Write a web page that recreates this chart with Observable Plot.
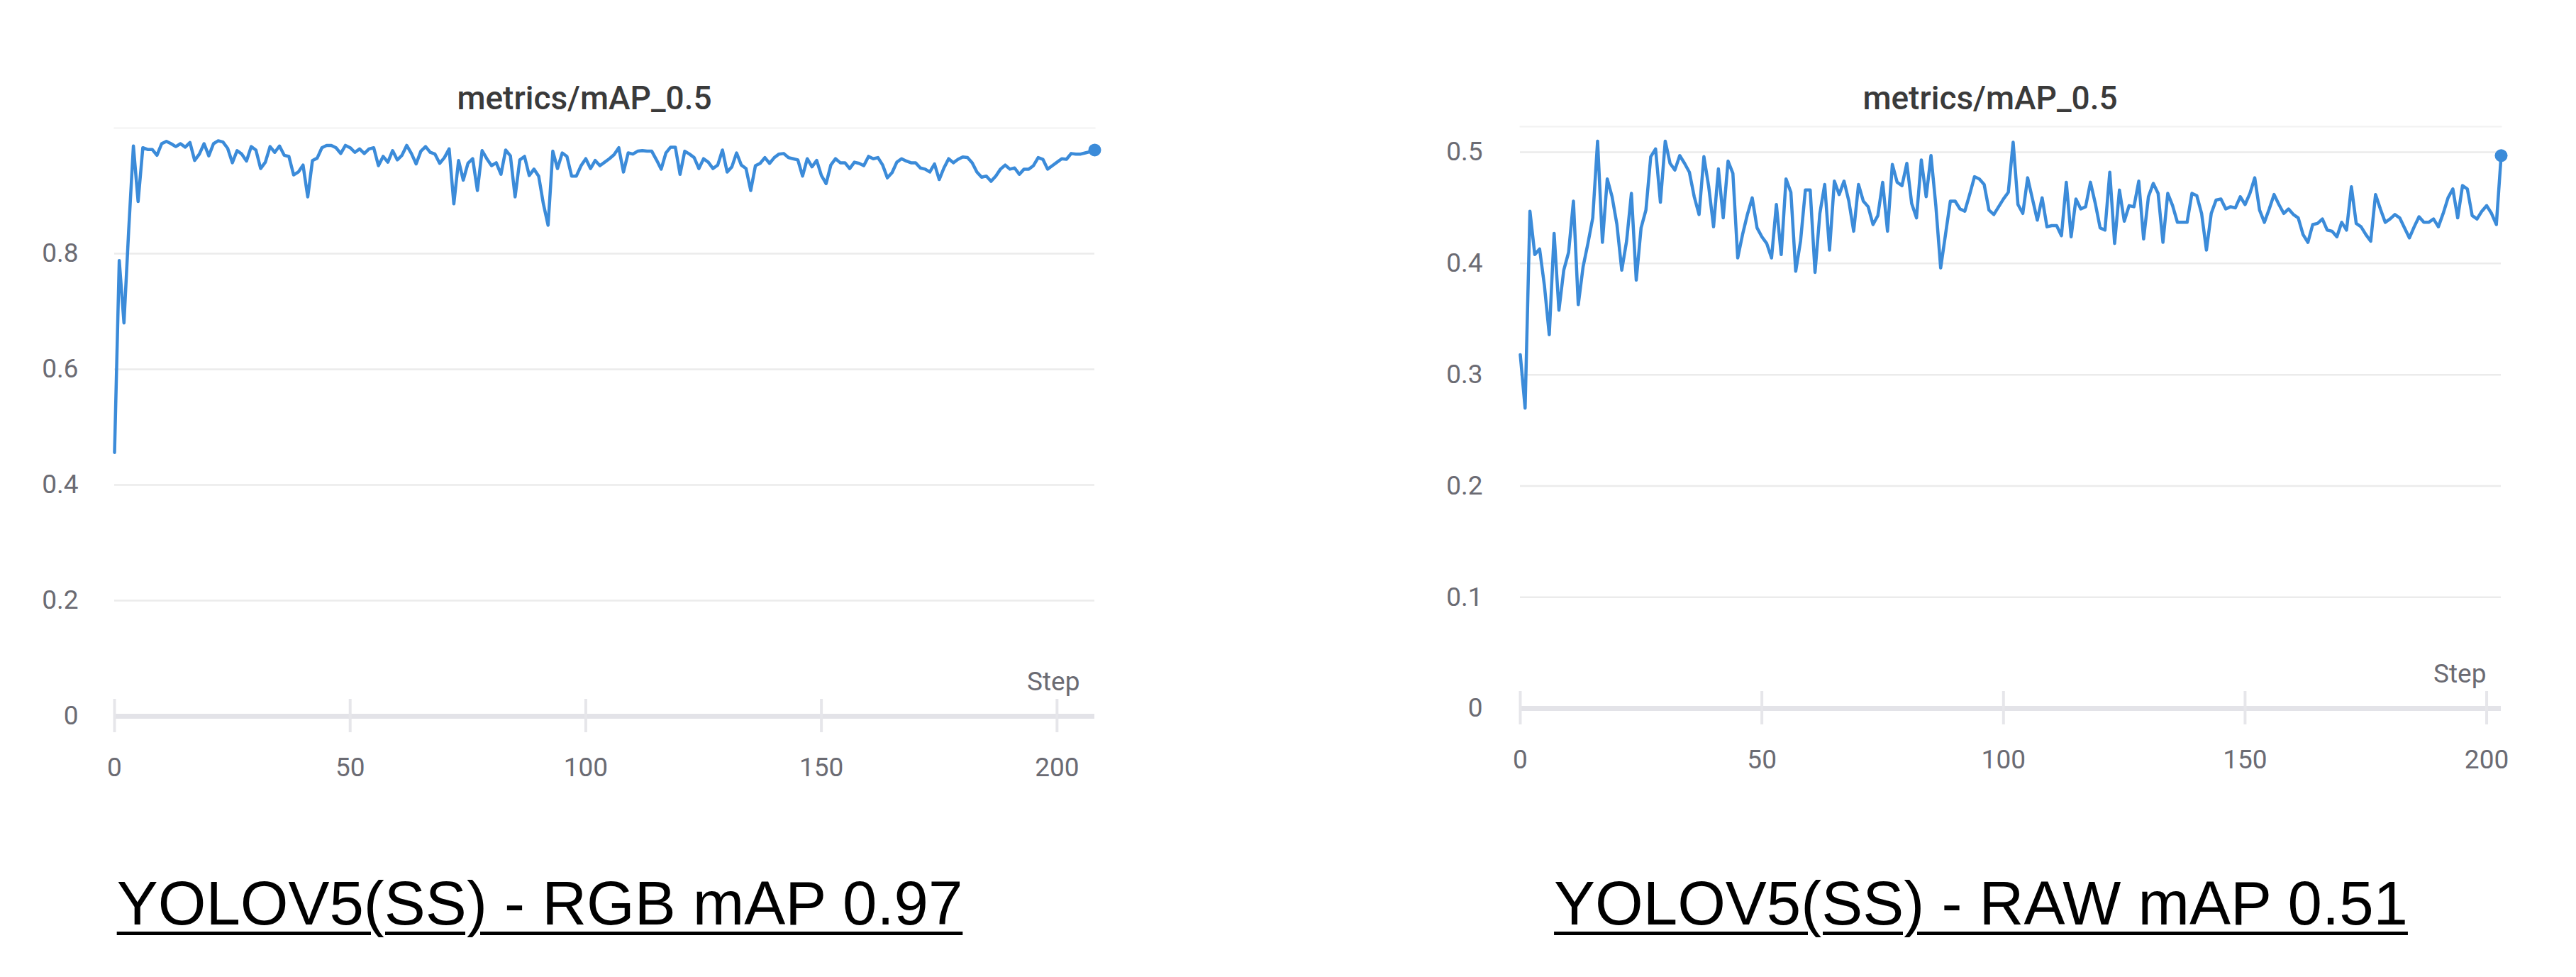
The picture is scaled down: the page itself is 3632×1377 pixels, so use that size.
<!DOCTYPE html>
<html><head><meta charset="utf-8">
<script src="https://cdn.jsdelivr.net/npm/d3@7"></script>
<script src="https://cdn.jsdelivr.net/npm/@observablehq/plot@0.6"></script>
<style>
html,body{margin:0;padding:0;background:#fff;}
#page{position:relative;width:3632px;height:1377px;overflow:hidden;background:#fff;}
.panel{position:absolute;top:0;}
.title{position:absolute;font-family:Roboto, sans-serif;font-weight:500;font-size:46px;color:#3a3a3a;transform:translate(-50%,-50%);white-space:nowrap;}
.caption{position:absolute;font-family:"Liberation Sans", Arial, sans-serif;font-size:87px;line-height:87px;color:#000;text-decoration:underline;text-decoration-thickness:5px;text-underline-offset:10px;white-space:nowrap;transform:translateX(-50%);}
</style></head>
<body><div id="page"></div>
<script>
const rgbMAP = [
0.456,0.788,0.68,0.84,0.986,0.89,0.983,0.98,0.98,0.97,
0.99,0.994,0.99,0.985,0.99,0.984,0.992,0.961,0.972,0.99,
0.969,0.99,0.995,0.993,0.982,0.957,0.978,0.972,0.96,0.985,
0.979,0.947,0.958,0.985,0.975,0.986,0.97,0.968,0.936,0.941,
0.953,0.898,0.961,0.965,0.983,0.987,0.987,0.983,0.973,0.987,
0.983,0.975,0.981,0.973,0.981,0.983,0.952,0.968,0.958,0.978,
0.962,0.97,0.987,0.973,0.955,0.977,0.985,0.975,0.972,0.956,
0.966,0.981,0.886,0.961,0.927,0.956,0.964,0.909,0.978,0.964,
0.952,0.957,0.937,0.979,0.969,0.898,0.962,0.968,0.935,0.946,
0.934,0.886,0.849,0.977,0.947,0.974,0.968,0.934,0.934,0.952,
0.964,0.947,0.961,0.952,0.958,0.964,0.971,0.983,0.941,0.974,
0.972,0.977,0.978,0.977,0.977,0.962,0.946,0.974,0.984,0.984,
0.937,0.977,0.972,0.966,0.947,0.964,0.958,0.947,0.953,0.979,
0.941,0.95,0.974,0.953,0.947,0.909,0.952,0.956,0.966,0.956,
0.966,0.972,0.973,0.966,0.964,0.962,0.934,0.964,0.95,0.961,
0.935,0.921,0.953,0.964,0.957,0.957,0.947,0.958,0.956,0.952,
0.968,0.964,0.966,0.953,0.931,0.94,0.958,0.964,0.96,0.957,
0.957,0.948,0.946,0.941,0.955,0.928,0.948,0.964,0.957,0.963,
0.967,0.966,0.957,0.941,0.932,0.934,0.925,0.934,0.946,0.953,
0.946,0.948,0.937,0.946,0.946,0.952,0.966,0.963,0.946,0.952,
0.958,0.964,0.963,0.973,0.972,0.972,0.974,0.976,0.979
];
const rawMAP = [
0.318,0.27,0.447,0.408,0.413,0.38,0.336,0.427,0.358,0.394,
0.41,0.456,0.363,0.397,0.418,0.441,0.51,0.419,0.476,0.46,
0.435,0.394,0.42,0.463,0.385,0.432,0.448,0.496,0.503,0.455,
0.51,0.49,0.484,0.497,0.49,0.482,0.46,0.444,0.496,0.469,
0.433,0.485,0.441,0.492,0.481,0.405,0.426,0.444,0.459,0.432,
0.424,0.418,0.405,0.453,0.408,0.476,0.464,0.393,0.42,0.466,
0.466,0.392,0.445,0.471,0.412,0.474,0.462,0.474,0.456,0.429,
0.471,0.456,0.451,0.435,0.443,0.473,0.429,0.489,0.473,0.47,
0.49,0.454,0.441,0.493,0.46,0.497,0.452,0.396,0.426,0.456,
0.456,0.449,0.447,0.462,0.478,0.476,0.471,0.448,0.444,0.451,
0.458,0.464,0.509,0.453,0.445,0.477,0.458,0.439,0.459,0.433,
0.434,0.434,0.425,0.473,0.424,0.458,0.449,0.451,0.473,0.454,
0.432,0.43,0.482,0.418,0.466,0.438,0.452,0.451,0.474,0.422,
0.46,0.472,0.463,0.419,0.463,0.452,0.437,0.437,0.437,0.463,
0.461,0.445,0.412,0.445,0.457,0.458,0.449,0.451,0.45,0.46,
0.453,0.463,0.477,0.448,0.437,0.449,0.462,0.453,0.445,0.449,
0.444,0.441,0.426,0.419,0.435,0.436,0.44,0.43,0.429,0.424,
0.437,0.43,0.469,0.436,0.433,0.426,0.42,0.462,0.449,0.437,
0.44,0.444,0.441,0.432,0.423,0.433,0.442,0.437,0.437,0.44,
0.433,0.445,0.459,0.467,0.441,0.47,0.467,0.443,0.44,0.447,
0.452,0.445,0.435,0.497
];
const rgbYTicks = [0, 0.2, 0.4, 0.6, 0.8];
const rawYTicks = [0, 0.1, 0.2, 0.3, 0.4, 0.5];
const xTicks = [0, 50, 100, 150, 200];
const titles = ["metrics/mAP_0.5", "metrics/mAP_0.5"];
const captions = ["YOLOV5(SS) - RGB mAP 0.97", "YOLOV5(SS) - RAW mAP 0.51"];
const xLabel = "Step";

const LINE = "#3b8bd9";
const LABEL = "#6b6b73";

function panel({values, yTicks, yMax, width, height, marginLeft, marginRight, marginTop, marginBottom, yPad}) {
  const data = values.map((v, i) => ({step: i, value: v}));
  const last = data[data.length - 1];
  return Plot.plot({
    width, height, marginLeft, marginRight, marginTop, marginBottom,
    style: {fontFamily: "Roboto, sans-serif", fontSize: "37px", color: LABEL, background: "transparent", overflow: "visible"},
    x: {domain: [0, values.length - 1]},
    y: {domain: [0, yMax]},
    marks: [
      Plot.frame({anchor: "top", stroke: "#f2f2f2", strokeWidth: 2}),
      Plot.gridY(yTicks.filter(d => d > 0), {stroke: "#ebebeb", strokeOpacity: 1, strokeWidth: 2.5}),
      Plot.ruleY([0], {stroke: "#e3e3e8", strokeWidth: 7}),
      Plot.ruleX(xTicks, {x: d => d, y1: 0, y2: 0, insetTop: -24, insetBottom: -23, stroke: "#e6e6ea", strokeWidth: 4}),
      Plot.axisY(yTicks, {anchor: "left", tickSize: 0, tickPadding: yPad, tickFormat: d => String(d), label: null, fill: LABEL}),
      Plot.axisX(xTicks, {anchor: "bottom", tickSize: 0, tickPadding: 58, tickFormat: d => String(d), label: null, fill: LABEL}),
      Plot.lineY(data, {x: "step", y: "value", stroke: LINE, strokeWidth: 4.5, strokeLinejoin: "round"}),
      Plot.dot([last], {x: "step", y: "value", r: 9, fill: LINE}),
      Plot.text([xLabel], {frameAnchor: "bottom-right", text: d => d, textAnchor: "end", dx: -21, dy: -37, fill: LABEL})
    ]
  });
}

const page = document.getElementById("page");

const left = panel({values: rgbMAP, yTicks: rgbYTicks, yMax: 1.017, width: 1600, height: 1150,
  marginLeft: 161, marginRight: 57, marginTop: 180, marginBottom: 141, yPad: 51});
left.classList.add("panel"); left.style.left = "0px";
page.appendChild(left);

const right = panel({values: rawMAP, yTicks: rawYTicks, yMax: 0.523, width: 1732, height: 1150,
  marginLeft: 243, marginRight: 106, marginTop: 178, marginBottom: 152, yPad: 53});
right.classList.add("panel"); right.style.left = "1900px";
page.appendChild(right);

const titlePos = [[824, 138], [2806, 138]];
titles.forEach((t, i) => {
  const d = document.createElement("div");
  d.className = "title"; d.textContent = t;
  d.style.left = titlePos[i][0] + "px"; d.style.top = titlePos[i][1] + "px";
  page.appendChild(d);
});
const capPos = [[761, 1229], [2793, 1229]];
captions.forEach((t, i) => {
  const d = document.createElement("div");
  d.className = "caption"; d.textContent = t;
  d.style.left = capPos[i][0] + "px"; d.style.top = capPos[i][1] + "px";
  page.appendChild(d);
});
</script>
</body></html>
